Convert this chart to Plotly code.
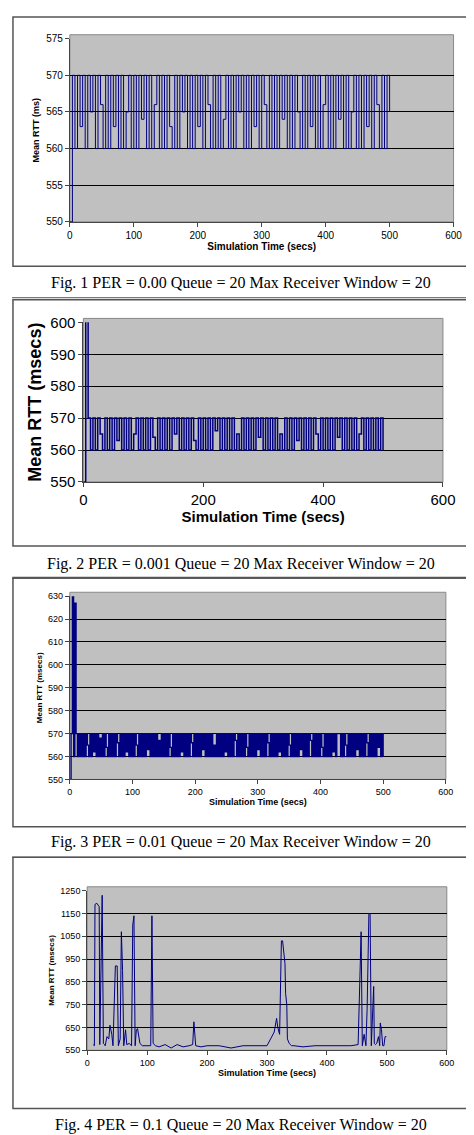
import numpy as np
import plotly.graph_objects as go

W, H = 474, 1135
NAVY = "#000080"

# ---- data ----
t4 = np.arange(0, 501, 4)  # sample times, every 4 s

rtt1 = [550, 570, 560, 570, 563, 570, 560, 570, 565, 570, 560, 570, 566, 560, 570, 560, 570, 563,
        570, 560, 570, 560, 565, 570, 560, 570, 560, 570, 564, 570, 560, 570, 560, 566, 570, 560,
        570, 560, 570, 563, 560, 570, 560, 570, 565, 570, 560, 570, 560, 570, 563, 570, 560, 570,
        566, 560, 570, 560, 570, 560, 564, 570, 560, 570, 560, 570, 565, 570, 560, 570, 560, 570,
        563, 570, 560, 570, 566, 560, 570, 560, 570, 560, 570, 564, 570, 560, 570, 560, 570, 565,
        560, 570, 560, 570, 563, 570, 560, 570, 560, 566, 570, 560, 570, 560, 570, 564, 570, 560,
        570, 560, 565, 570, 560, 570, 560, 570, 563, 570, 560, 570, 566, 560, 570, 560, 570, 565]

rtt2 = [550, 601, 570, 560, 570, 560, 570, 565, 560, 570, 560, 570, 560, 570, 563, 570, 560, 570,
        560, 570, 560, 565, 570, 560, 570, 560, 570, 560, 570, 564, 560, 570, 560, 570, 560, 570,
        560, 570, 565, 570, 560, 570, 560, 570, 560, 570, 563, 560, 570, 560, 570, 560, 570, 560,
        570, 566, 570, 560, 570, 560, 570, 560, 570, 560, 565, 560, 570, 560, 570, 560, 570, 560,
        570, 564, 570, 560, 570, 560, 570, 560, 570, 560, 565, 560, 570, 560, 570, 560, 570, 563,
        570, 560, 570, 560, 570, 560, 570, 565, 560, 570, 560, 570, 560, 570, 560, 570, 564, 570,
        560, 570, 560, 570, 560, 570, 560, 565, 570, 560, 570, 560, 570, 560, 570, 560, 570, 560]

t2 = np.arange(0, 501, 2)  # every 2 s
rtt3 = [550, 570, 630, 560, 627, 570, 560, 570, 560, 570, 560, 570, 560, 570, 565, 560, 570, 560,
        570, 562, 570, 560, 570, 560, 568, 560, 570, 560, 570, 564, 560, 570, 560, 570, 560, 570,
        560, 570, 566, 560, 570, 560, 570, 560, 570, 562, 570, 560, 570, 560, 570, 560, 570, 565,
        560, 570, 560, 570, 560, 570, 560, 570, 563, 570, 560, 570, 560, 570, 560, 570, 560, 567,
        560, 570, 560, 570, 560, 570, 560, 570, 564, 560, 570, 560, 570, 560, 570, 560, 570, 562,
        570, 560, 570, 560, 570, 560, 570, 566, 560, 570, 560, 570, 560, 570, 560, 570, 563, 570,
        560, 570, 560, 570, 560, 570, 560, 565, 560, 570, 560, 570, 560, 570, 560, 570, 562, 570,
        560, 570, 560, 570, 560, 570, 567, 560, 570, 560, 570, 560, 570, 560, 570, 564, 560, 570,
        560, 570, 560, 570, 560, 570, 563, 570, 560, 570, 560, 570, 560, 570, 566, 560, 570, 560,
        570, 560, 570, 560, 570, 562, 570, 560, 570, 560, 570, 560, 570, 565, 560, 570, 560, 570,
        560, 570, 560, 570, 563, 570, 560, 570, 560, 570, 560, 570, 567, 560, 570, 560, 570, 560,
        570, 560, 570, 564, 560, 570, 560, 570, 560, 570, 560, 570, 562, 570, 560, 570, 570, 570,
        560, 570, 560, 570, 565, 560, 570, 560, 570, 560, 570, 560, 570, 563, 570, 560, 570, 560,
        570, 560, 570, 566, 560, 570, 560, 570, 560, 570, 560, 570, 564, 570, 560, 570, 560, 570,
        560, 570, 564]

t_4 = [10, 12, 13, 16, 20, 21, 25, 27, 29, 30, 33, 36, 38, 41, 43, 45, 47, 50, 52, 55, 57, 59,
       61, 64, 66, 70, 74, 76, 78, 80, 82, 84, 88, 92, 100, 106, 108, 110, 114, 120, 130, 140,
       150, 160, 170, 176, 178, 181, 190, 200, 220, 240, 260, 280, 300, 312, 316, 318, 321, 324,
       326, 330, 331, 333, 334, 337, 341, 345, 360, 380, 400, 420, 440, 452, 455, 457, 459, 462,
       465, 467, 470, 472, 474, 478, 479, 481, 483, 486, 488, 489, 491, 493, 495, 497, 499]
rtt4 = [575, 570, 1190, 1195, 1180, 575, 1230, 580, 575, 570, 610, 600, 660, 620, 570, 800, 920,
        920, 570, 600, 1070, 900, 570, 640, 575, 580, 570, 1100, 1140, 570, 640, 645, 580, 570,
        570, 570, 1140, 580, 570, 565, 575, 560, 575, 565, 570, 575, 675, 570, 565, 570, 570, 560,
        570, 570, 570, 630, 690, 650, 620, 1030, 1030, 930, 800, 750, 600, 580, 570, 570, 565,
        570, 570, 570, 570, 575, 960, 1070, 570, 620, 570, 730, 1150, 1150, 570, 830, 580, 575,
        580, 610, 570, 670, 640, 570, 570, 610, 610]

captions = ["Fig. 1 PER = 0.00 Queue = 20 Max Receiver Window = 20",
            "Fig. 2 PER = 0.001 Queue = 20 Max Receiver Window = 20",
            "Fig. 3 PER = 0.01 Queue = 20 Max Receiver Window = 20",
            "Fig. 4 PER = 0.1 Queue = 20 Max Receiver Window = 20"]


def px(x):
    return x / W


def py(y):
    return 1 - y / H


# panel geometry in pixels
panels = [
    dict(x=t4, y=rtt1, xr=(60, 458), yr=(22, 208), rng=[550, 575], dt=5, yt="Mean RTT (ms)",
         fs=9, frame=(0, 253), cap=270, lw=1, shape="hv"),
    dict(x=t4, y=rtt2, xr=(74, 447), yr=(310, 472), rng=[550, 600], dt=10, yt="Mean RTT (msecs)",
         fs=14, frame=(287, 537), cap=555, lw=1.5, shape="hv"),
    dict(x=t2, y=rtt3, xr=(60, 450), yr=(588, 774), rng=[550, 630], dt=10, yt="Mean RTT (msecs)",
         fs=8, frame=(569, 822), cap=838, lw=1.3, shape="hv"),
    dict(x=t_4, y=rtt4, xr=(78, 451), yr=(887, 1049), rng=[550, 1250], dt=100, yt="Mean RTT (msecs)",
         fs=8, frame=(853, 1108), cap=1125, lw=1, shape="linear"),
]

fig = go.Figure()
shapes, annotations = [], []
for i, p in enumerate(panels):
    n = "" if i == 0 else str(i + 1)
    fig.add_trace(go.Scatter(x=p["x"], y=p["y"], mode="lines", xaxis="x" + n, yaxis="y" + n,
                             line=dict(color=NAVY, width=p["lw"], shape=p["shape"]),
                             showlegend=False))
    fig.update_layout(**{
        "xaxis" + n: dict(domain=[px(p["xr"][0]), px(p["xr"][1])], range=[0, 600],
                          dtick=200 if i == 1 else 100, anchor="y" + n, showgrid=False,
                          showline=True, linecolor="#444", ticks="outside", ticklen=4,
                          tickcolor="#444", zeroline=False,
                          tickfont=dict(family="Arial", size=p["fs"] + 1, color="black"),
                          title=dict(text="<b>Simulation Time (secs)</b>", standoff=2,
                                     font=dict(family="Arial", size=p["fs"] + 1, color="black"))),
        "yaxis" + n: dict(domain=[py(p["yr"][1]), py(p["yr"][0])], range=p["rng"], dtick=p["dt"],
                          tick0=550, anchor="x" + n, showgrid=True, gridcolor="black", gridwidth=1,
                          showline=True, linecolor="#444", ticks="outside", ticklen=4,
                          tickcolor="#444", zeroline=False,
                          tickfont=dict(family="Arial", size=p["fs"] + 1, color="black"),
                          title=dict(text="<b>" + p["yt"] + "</b>", standoff=4,
                                     font=dict(family="Arial", size=p["fs"] + (4 if i == 1 else 0),
                                               color="black"))),
    })
    shapes.append(dict(type="rect", xref="paper", yref="paper", layer="below",
                       x0=px(p["xr"][0]), x1=px(p["xr"][1]),
                       y0=py(p["yr"][1]), y1=py(p["yr"][0] - 4),
                       fillcolor="#c0c0c0", line=dict(color="#888", width=1)))
    shapes.append(dict(type="rect", xref="paper", yref="paper",
                       x0=px(1), x1=px(473), y0=py(p["frame"][1]), y1=py(p["frame"][0]),
                       line=dict(color="#555", width=1.5)))
    shapes.append(dict(type="line", xref="paper", yref="paper", x0=0, x1=1,
                       y0=py(p["cap"] + 15), y1=py(p["cap"] + 15),
                       line=dict(color="#555", width=1)))
    annotations.append(dict(text=captions[i], xref="paper", yref="paper", x=0.5, y=py(p["cap"]),
                            showarrow=False, xanchor="center", yanchor="middle",
                            font=dict(family="Liberation Serif", size=16, color="black")))

fig.update_layout(width=W, height=H, margin=dict(l=0, r=0, t=0, b=0),
                  paper_bgcolor="white", plot_bgcolor="rgba(0,0,0,0)",
                  shapes=shapes, annotations=annotations)
fig.write_html("out.html")
